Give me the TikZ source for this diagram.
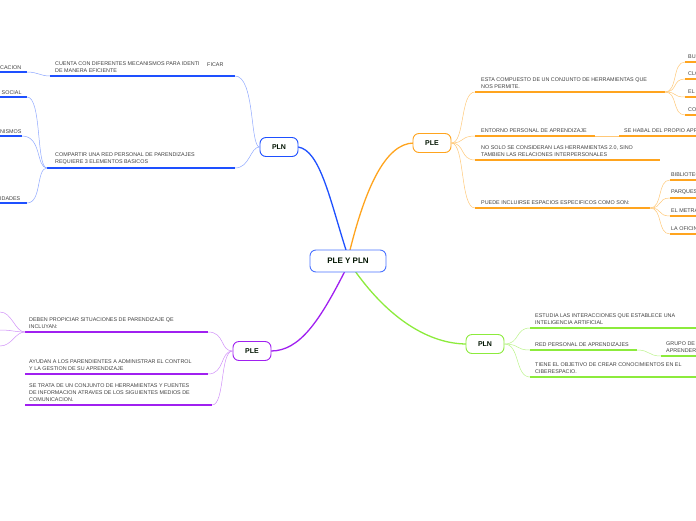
\documentclass[tikz,border=0pt]{standalone}
\usepackage{fontspec}
\setmainfont{Liberation Sans}
\begin{document}
\begin{tikzpicture}[x=1pt,y=-1pt,
  t/.style={font=\fontsize{5.4}{7}\selectfont,text=black!75,anchor=south west,inner sep=0pt,align=left},
  topic/.style={draw,rounded corners=6pt,line width=0.9pt,minimum height=19pt,font=\bfseries\fontsize{7}{8}\selectfont,text=black!80!green!40!black,fill=white},
  ln/.style={line width=1.3pt},
  cn/.style={line width=0.5pt}]
\definecolor{cb}{HTML}{1E50FF}\definecolor{co}{HTML}{FFA41E}
\definecolor{cg}{HTML}{8CEB3C}\definecolor{cp}{HTML}{A020F0}
\useasboundingbox (0,0) rectangle (696,520);
\clip (0,0) rectangle (696,520);
% main curves
\coordinate (c) at (348,261);
\draw[cb,line width=1.3pt] (346,250) .. controls (330,200) and (320,150) .. (298,147);
\draw[co,line width=1.3pt] (350,250) .. controls (365,190) and (385,143) .. (414,143);
\draw[cg,line width=1.3pt] (355,271) .. controls (390,320) and (430,344) .. (467,344);
\draw[cp,line width=1.3pt] (345,271) .. controls (320,320) and (300,351) .. (271,351);
\node[topic,draw=cb!80,minimum width=76pt,minimum height=22pt,font=\bfseries\fontsize{8}{9}\selectfont] (root) at (348,261) {PLE Y PLN};
% ===== top-left PLN
\node[topic,draw=cb,minimum width=38pt] (pln1) at (279,147) {PLN};
\coordinate (a1) at (235,76); \coordinate (a1l) at (50,76);
\coordinate (a2) at (235,168); \coordinate (a2l) at (47,168);
\draw[cb!50,cn] (pln1.west) .. controls (250,147) and (255,76) .. (a1);
\draw[cb!50,cn] (pln1.west) .. controls (250,147) and (250,168) .. (a2);
\draw[cb,ln] (a1l) -- (a1); \draw[cb,ln] (a2l) -- (a2);
\node[t] (tA1) at (55,73) {CUENTA CON DIFERENTES MECANISMOS PARA IDENTI\\DE MANERA EFICIENTE};
\node[t] (tA1b) at (207,67) {FICAR};
\node[t] (tA2) at (55,165) {COMPARTIR UNA RED PERSONAL DE PARENDIZAJES\\REQUIERE 3 ELEMENTOS BASICOS};
\draw[cb,ln] (0,72) coordinate (s1) -- (27,72) coordinate (s1r);
\draw[cb!50,cn] (s1r) .. controls (38,72) and (40,76) .. (a1l);
\node[t] (ts1) at (0,69.5) {CACION};
\foreach \y/\w in {97/27,136/22,203/27}{
  \draw[cb,ln] (0,\y) -- (\w,\y);
  \draw[cb!50,cn] (\w,\y) .. controls (42,\y) and (36,168) .. (a2l);
}
\node[t] (ts2) at (0,94.5) {\ SOCIAL};
\node[t] (ts3) at (0,133.5) {NISMOS};
\node[t] (ts4) at (0,200.5) {IDADES};
% ===== right PLE
\node[topic,draw=co,minimum width=38pt] (ple1) at (432,143) {PLE};
\foreach \y/\xr in {92/665,136/595,160/660,208/650}{
  \draw[co!60,cn] (ple1.east) .. controls (465,143) and (460,\y) .. (475,\y);
  \draw[co,ln] (475,\y) -- (\xr,\y);
}
\node[t] (r1) at (481,89) {ESTA COMPUESTO DE UN CONJUNTO DE HERRAMIENTAS QUE\\NOS PERMITE.};
\node[t] (r2) at (481,133) {ENTORNO PERSONAL DE APRENDIZAJE};
\node[t] (r3) at (481,157) {NO SOLO SE CONSIDERAN LAS HERRAMIENTAS 2.0, SINO\\TAMBIEN LAS RELACIONES INTERPERSONALES};
\node[t] (r4) at (481,205) {PUEDE INCLUIRSE ESPACIOS ESPECIFICOS COMO SON:};
\draw[co!60,cn] (595,136) .. controls (607,136) and (607,136) .. (619,136);
\draw[co,ln] (619,136) -- (696,136);
\node[t] (r2b) at (624,133) {SE HABAL DEL PROPIO APRENDIZAJE};
\foreach \y/\lab in {62/BUSCADORES,79/CLOUD,97/EL CORREO,115/COMUNIDADES}{
  \draw[co!60,cn] (665,92) .. controls (678,92) and (672,\y) .. (685,\y);
  \draw[co,ln] (685,\y) -- (696,\y);
  \node[t] at (688,\y-3) {\lab};
}
\foreach \y/\lab in {180/BIBLIOTECA,198/PARQUES,216/EL METRALLO,234/LA OFICINA}{
  \draw[co!60,cn] (650,208) .. controls (663,208) and (657,\y) .. (670,\y);
  \draw[co,ln] (670,\y) -- (696,\y);
  \node[t] at (671,\y-3) {\lab};
}
% ===== bottom-right PLN
\node[topic,draw=cg,minimum width=38pt] (pln2) at (485,344) {PLN};
\foreach \y/\xr in {328/696,350/637,377/696}{
  \draw[cg!60,cn] (pln2.east) .. controls (520,344) and (515,\y) .. (530,\y);
  \draw[cg,ln] (530,\y) -- (\xr,\y);
}
\node[t] (g1) at (535,325) {ESTUDIA LAS INTERACCIONES QUE ESTABLECE UNA\\INTELIGENCIA ARTIFICIAL};
\node[t] (g2) at (535,347) {RED PERSONAL DE APRENDIZAJES};
\node[t] (g3) at (535,374) {TIENE EL OBJETIVO DE CREAR CONOCIMIENTOS EN EL\\CIBERESPACIO.};
\draw[cg!60,cn] (637,350) .. controls (650,350) and (648,356) .. (661,356);
\draw[cg,ln] (661,356) -- (696,356);
\node[t] (g2b) at (666,352.5) {GRUPO DE\\APRENDER};
% ===== bottom-left PLE
\node[topic,draw=cp,minimum width=38pt] (ple2) at (252,351) {PLE};
\foreach \y/\xr in {332/208,374/208,405/212}{
  \draw[cp!50,cn] (ple2.west) .. controls (220,351) and (225,\y) .. (\xr,\y);
  \draw[cp,ln] (25,\y) -- (\xr,\y);
}
\node[t] (p1) at (29,329) {DEBEN PROPICIAR SITUACIONES DE PARENDIZAJE QE\\INCLUYAN:};
\node[t] (p2) at (29,371) {AYUDAN A LOS PARENDIENTES A ADMINISTRAR EL CONTROL\\Y LA GESTION DE SU APRENDIZAJE};
\node[t] (p3) at (29,402) {SE TRATA DE UN CONJUNTO DE HERRAMIENTAS Y FUENTES\\DE INFORMACION ATRAVES DE LOS SIGUIENTES MEDIOS DE\\COMUNICACION.};
\foreach \y in {312,330,346}{
  \draw[cp!50,cn] (25,332) .. controls (15,332) and (12,\y) .. (0,\y);
}
\end{tikzpicture}
\end{document}
